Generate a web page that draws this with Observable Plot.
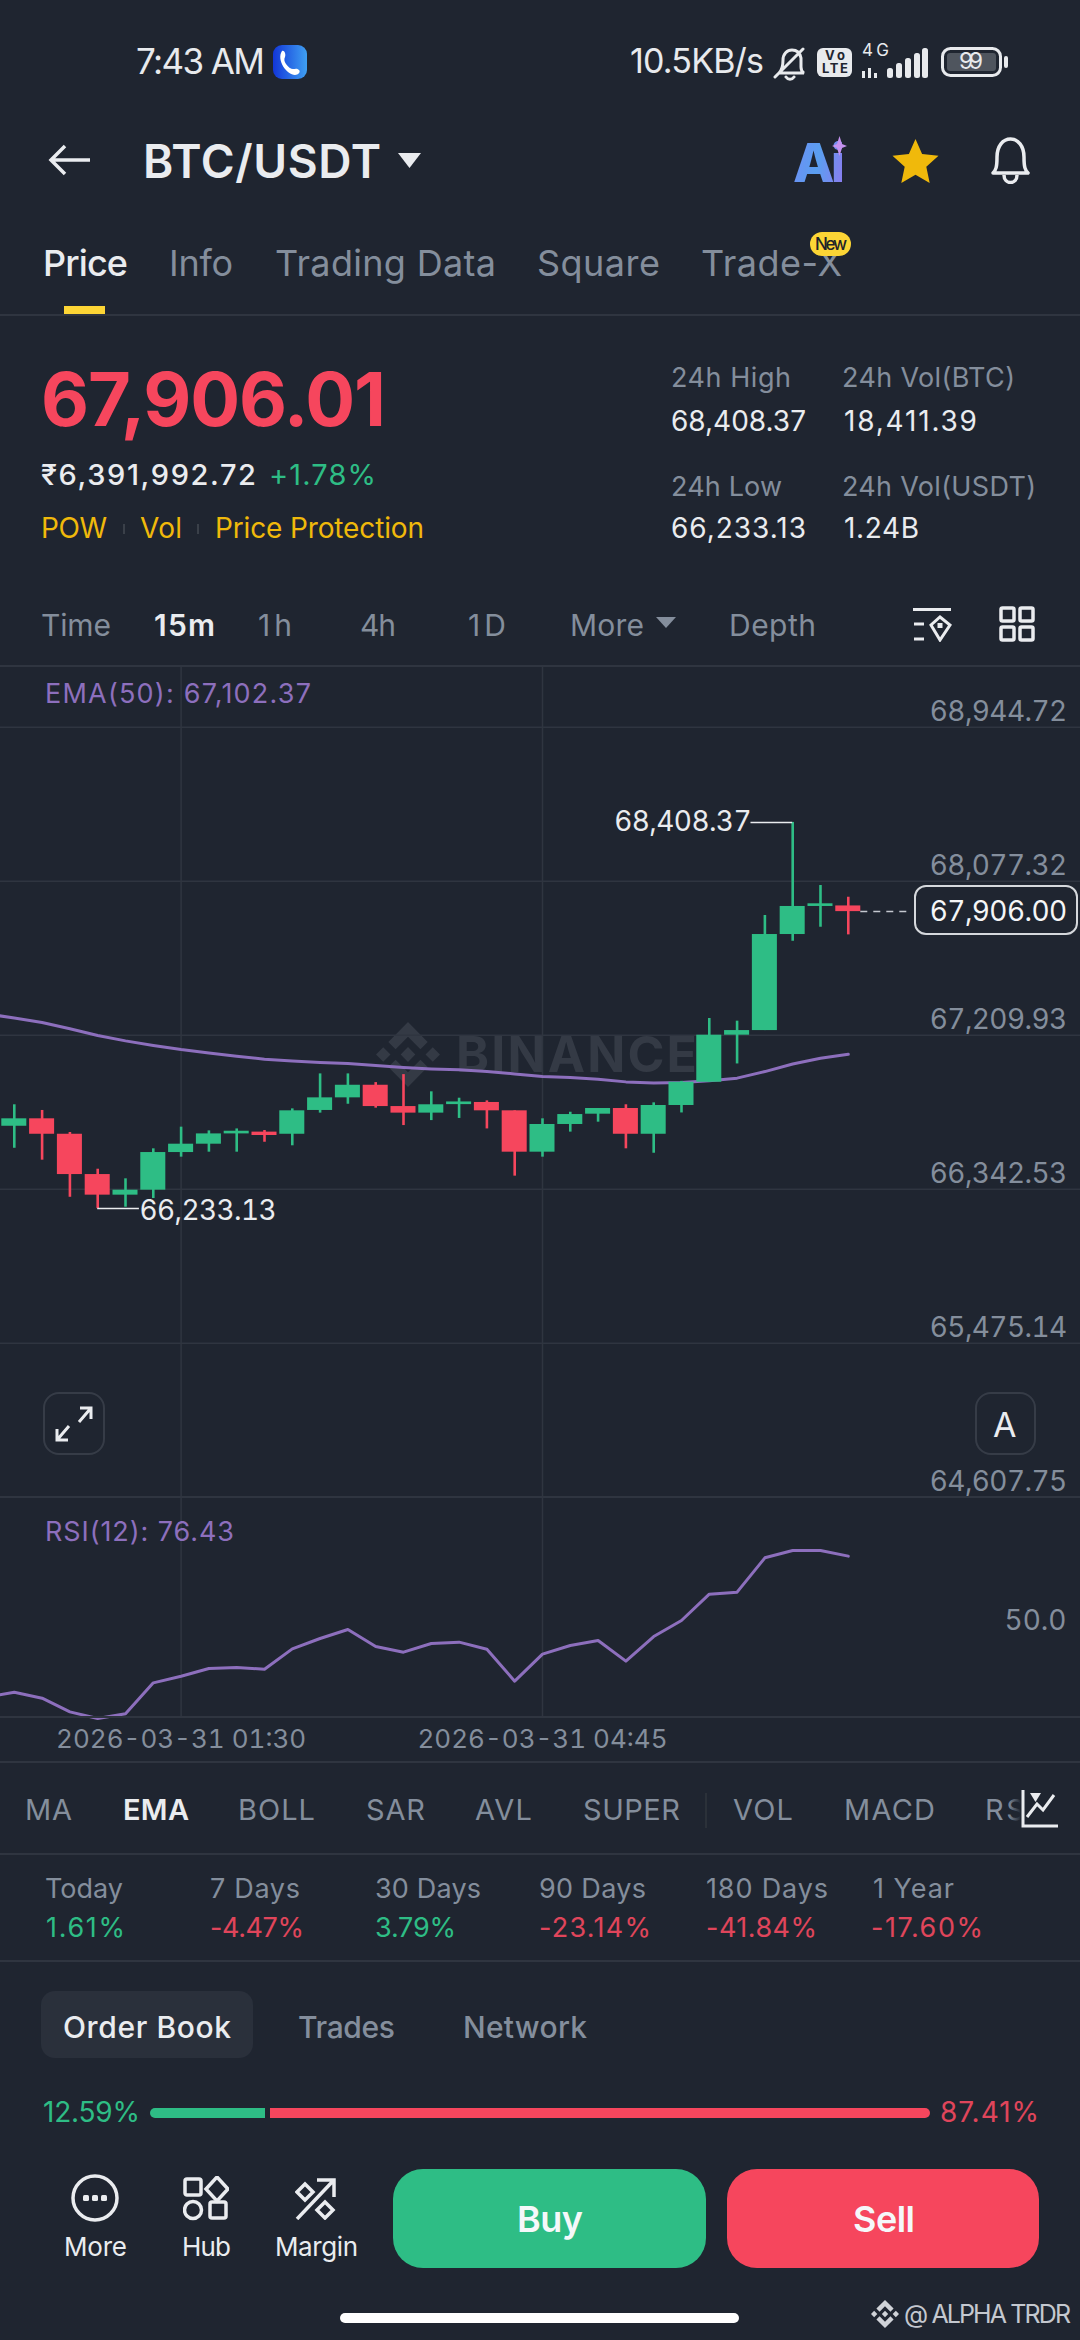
<!DOCTYPE html>
<html><head><meta charset="utf-8">
<script src="https://cdn.jsdelivr.net/npm/d3@7"></script>
<script src="https://cdn.jsdelivr.net/npm/@observablehq/plot@0.6"></script>
<style>
html,body{margin:0;padding:0;background:#1f2530}
#app{position:relative;width:1080px;height:2340px;overflow:hidden;background:#1f2530;font-family:Inter,"Noto Sans",sans-serif;color:#eaecef}
#app span.t{position:absolute;white-space:nowrap;transform:translateY(-50%);line-height:1.2}
#app div.b,#app svg.i{position:absolute;display:block}
#app svg.plot{position:absolute;left:0}
</style></head><body><div id="app"></div>
<script>
const bgColor="#1f2530",green="#2ebd85",red="#f6465d",gray="#848e9c",white="#eaecef",yellow="#f0b90b",purple="#8d6fbd",lineCol="#2f3540";

// ---------- chart data ----------
const startTime=new Date(Date.UTC(2026,2,31,0,0));
const opens =[66697,66739,66652,66425,66309,66337,66549,66596,66654,66664,66652,66786,66857,66928,66808,66771,66819,66831,66784,66551,66707,66765,66797,66652,66814,66945,67210,67236,67777,67935,67938];
const closes=[66739,66652,66425,66309,66337,66549,66596,66654,66669,66645,66784,66857,66928,66808,66771,66818,66834,66784,66551,66707,66763,66797,66652,66814,66945,67210,67236,67777,67935,67950,67906];
const highs =[66818,66786,66662,66455,66401,66570,66692,66671,66682,66673,66795,66992,66992,66943,66988,66891,66855,66840,66784,66739,66776,66797,66818,66829,66950,67304,67289,67884,68408.37,68053,67987];
const lows  =[66573,66506,66297,66233.13,66241,66290,66523,66551,66551,66607,66587,66771,66821,66799,66701,66729,66741,66682,66416,66523,66664,66720,66570,66545,66772,66945,67048,67236,67739,67818,67775];
// both indicator series start one candle before the first visible candle
const emaValues=[67330,67307,67281,67246,67208,67178,67152,67129,67110,67092,67075,67065,67056,67050,67039,67028,67020,67015,67005,66992,66977,66971,66962,66947,66941,66943,66953,66968,67005,67048,67080,67102.37];
const rsiValues=[30.04,31.69,29.71,25.22,23.03,24.56,34.76,36.95,39.47,39.8,39.25,45.94,49.34,52.3,46.71,44.85,47.7,48.14,45.83,35.31,44.19,47.04,48.68,41.89,50,55.26,63.93,64.58,75.88,78.29,78.29,76.43];
const priceTicks=[68944.72,68077.32,67209.93,66342.53,65475.14,64607.75];
const rsiTicks=[50];
const dateTicks=[new Date(Date.UTC(2026,2,31,1,30)),new Date(Date.UTC(2026,2,31,4,45))];
const lastPrice=67906.00, chartHigh=68408.37, chartLow=66233.13;

const minutes=(d,m)=>new Date(+d+m*60000);
const tAt=i=>minutes(startTime,15*i);
const candles=opens.map((o,i)=>({t:tAt(i),open:o,close:closes[i],high:highs[i],low:lows[i],col:closes[i]>=o?green:red}));
const emaData=emaValues.map((v,i)=>({t:tAt(i-1),v}));
const rsiData=rsiValues.map((v,i)=>({t:tAt(i-1),v}));
const xDomain=[minutes(startTime,-7.45),minutes(startTime,575.3)];
const fmt=d3.format(",.2f");
const iLow=lows.indexOf(chartLow), iHigh=highs.indexOf(chartHigh);
const leadLow=[{x1:tAt(iLow),x2:minutes(tAt(iLow),22.5),y:chartLow}];
const leadHigh=[{x1:minutes(tAt(iHigh),-22.5),x2:tAt(iHigh),y:chartHigh}];

const app=document.getElementById("app");
// ---------- UI helpers ----------
function T(s,x1,x2,yc,size,color,weight){
  const e=document.createElement("span");e.className="t";e.textContent=s;
  e.style.cssText=`left:${x1}px;top:${yc}px;font-size:${size}px;color:${color};font-weight:${weight||400}`;
  app.appendChild(e);
  const w=e.getBoundingClientRect().width;
  if(x2) e.style.letterSpacing=((x2-x1-w)/Math.max(1,s.length-1))+"px";
  return e;
}
function B(x1,y1,x2,y2,css){const e=document.createElement("div");e.className="b";
  e.style.cssText=`left:${x1}px;top:${y1}px;width:${x2-x1}px;height:${y2-y1}px;${css||""}`;app.appendChild(e);return e;}
function I(x1,y1,x2,y2,vb,inner){const h=document.createElementNS("http://www.w3.org/2000/svg","svg");h.setAttribute("class","i");
  h.setAttribute("viewBox",vb);h.setAttribute("preserveAspectRatio","none");
  h.style.cssText=`left:${x1}px;top:${y1}px;width:${x2-x1}px;height:${y2-y1}px`;h.innerHTML=inner;app.appendChild(h);return h;}
const logo='M38.73 53.2L63.3 28.63 87.89 53.22l14.3-14.3L63.3 0 24.43 38.9zM0 63.3l14.3-14.3 14.3 14.3-14.3 14.3zM38.73 73.41L63.3 97.98l24.59-24.59 14.3 14.29-38.89 38.9-38.9-38.9zM97.98 63.3l14.3-14.3 14.3 14.3-14.3 14.3zM77.78 63.29L63.3 48.81 52.6 59.5l-1.23 1.23-2.53 2.53 14.46 14.46 14.48-14.47z';

// ---------- status bar ----------
T("7:43 AM",136,265,61,35,"#e8eaed",400);
I(273,45,307,79,"0 0 34 34",'<defs><linearGradient id="ph" x1="0" x2="1"><stop offset="0" stop-color="#1236d8"/><stop offset="1" stop-color="#3fa0f2"/></linearGradient></defs><rect width="34" height="34" rx="9" fill="url(#ph)"/><path d="M9 6c3-1 4 4 3 6s-1 4 1 7 5 5 7 5 4-1 6 1-1 5-4 5C14 30 3 15 9 6z" fill="#fff"/>');
T("10.5KB/s",630,764,61,34,"#e8eaed",400);
I(773,45,807,82,"0 0 34 37",'<path d="M6 28c3-3 4-7 4-13 0-6 4-10 9-10s8 3 9 8v9c0 3 1 5 3 6z M13 32c2 3 6 3 8 0M2 32L30 4" fill="none" stroke="#e8eaed" stroke-width="3" stroke-linecap="round"/>');
B(817,48,852,77,"background:#e8eaed;border-radius:6px");
T("Vo",825,845,56,13,bgColor,700);T("LTE",822,848,69,13,bgColor,700);
T("4G",862,889,50,17,"#e8eaed",400);
I(861,48,928,78,"0 0 67 30",'<g fill="#e8eaed"><rect x="1" y="23" width="3" height="7"/><rect x="7" y="20" width="3" height="10"/><rect x="13" y="25" width="3" height="5"/><rect x="26" y="20" width="6" height="10" rx="2.500"/><rect x="35" y="15" width="6" height="15" rx="2.500"/><rect x="44" y="10" width="6" height="20" rx="2.500"/><rect x="53" y="5" width="6" height="25" rx="2.500"/><rect x="61" y="0" width="6" height="30" rx="2.500"/></g>');
I(941,47,1010,77,"0 0 69 30",'<rect x="1.5" y="1.5" width="58" height="27" rx="8" fill="none" stroke="#e8eaed" stroke-width="3"/><rect x="6" y="6" width="49" height="18" rx="3" fill="#4f555e"/><rect x="63" y="9" width="4" height="12" rx="2" fill="#e8eaed"/>');
T("99",959,983,62,23,"#e8eaed",400);

// ---------- header ----------
I(48,144,91,176,"0 0 43 32",'<path d="M42 16H3M17 2L3 16l14 14" fill="none" stroke="#eaecef" stroke-width="3.5"/>');
T("BTC/USDT",143,381,162,46,white,600);
I(398,153,421,168,"0 0 23 15",'<path d="M0 0h23L11.5 15z" fill="#eaecef"/>');
const ai=T("Ai",793,846,163,54,"transparent",800);
ai.style.background="linear-gradient(100deg,#6f8df5,#5a9ff0 50%,#8c7bf0)";ai.style.webkitBackgroundClip="text";ai.style.backgroundClip="text";
I(832,136,847,156,"0 0 15 20",'<path d="M7.5 0L10 8l5 2-5 2-2.5 8L5 12l-5-2 5-2z" fill="#c592ef"/>');
I(892,138,939,183,"0 0 47 45",'<path d="M23.5 1l6.6 15 16.4 1.8-12.2 11 3.4 16.2-14.2-8.2L9.300 45l3.400-16.200-12.200-11L16.900 16z" fill="'+yellow+'"/>');
I(988,137,1033,184,"0 0 45 47",'<path d="M5 36c3-3 4-6 4-16C9 9 15 2 22.500 2S36 9 36 20c0 10 1 13 4 16z M16 38c0 10 13 10 13 0" fill="none" stroke="#eaecef" stroke-width="3.500" stroke-linejoin="round"/>');

// ---------- tabs ----------
T("Price",43,128,264,36,white,500);
T("Info",169,233,264,36,gray,400);
T("Trading Data",275,496,264,36,gray,400);
T("Square",537,660,264,36,gray,400);
T("Trade-X",701,842,264,36,gray,400);
B(810,232,851,256,"background:#fcd535;border-radius:12px");
T("New",815,847,244,17,"#1e2329",500);
B(64,306,105,315,"background:#fcd535");
B(0,314,1080,316,"background:"+lineCol);

// ---------- price block ----------
T("67,906.01",41,386,399,74,red,700);
T("₹6,391,992.72",41,256,475,29,white,500);
T("+1.78%",269,376,475,29,green,400);
T("POW",41,107,529,28,yellow,400);
B(123,524,125,534,"background:#3a4049");
T("Vol",140,182,529,28,yellow,400);
B(197,524,199,534,"background:#3a4049");
T("Price Protection",215,424,529,28,yellow,400);
T("24h High",671,791,378,27,gray);T("24h Vol(BTC)",842,1015,378,27,gray);
T("68,408.37",671,806,422,28,white);T("18,411.39",844,977,422,28,white);
T("24h Low",671,782,487,27,gray);T("24h Vol(USDT)",842,1036,487,27,gray);
T("66,233.13",671,806,529,28,white);T("1.24B",844,919,529,28,white);

// ---------- interval row ----------
T("Time",41,111,625,30,gray);T("15m",154,215,625,30,white,600);T("1h",258,292,625,30,gray);
T("4h",360,396,625,30,gray);T("1D",468,506,625,30,gray);T("More",570,644,625,30,gray);
I(656,617,676,628,"0 0 20 11",'<path d="M0 0h20L10 11z" fill="'+gray+'"/>');
T("Depth",729,816,625,30,gray);
I(913,608,952,642,"0 0 39 34",'<g fill="none" stroke="#eaecef" stroke-width="3"><path d="M0 1.500h38M1 16h10M1 31h10"/><path d="M27 9l10 8-10 15-9-15z" stroke-width="3"/><rect x="24.500" y="15" width="5" height="5" fill="#eaecef" stroke="none"/></g>');
I(999,606,1035,642,"0 0 36 36",'<g fill="none" stroke="#eaecef" stroke-width="3.500"><rect x="2" y="2" width="13" height="13" rx="1.500"/><rect x="21" y="2" width="13" height="13" rx="1.500"/><rect x="2" y="21" width="13" height="13" rx="1.500"/><rect x="21" y="21" width="13" height="13" rx="1.500"/></g>');
B(0,665,1080,667,"background:"+lineCol);

// ---------- watermark + price box (behind the chart) ----------
I(376,1022,440,1087,"0 0 126.600 126.600",'<path d="'+logo+'" fill="#343a45"/>');
T("BINANCE",456,697,1054,50,"#343a45",700);
B(914,885,1078,935,"border:2px solid #d5d8dc;border-radius:12px;box-sizing:border-box");

// ---------- main price chart ----------
const axisFont="Inter";
const priceChart=Plot.plot({
  width:1080,height:830,margin:0,
  style:{background:"transparent",fontFamily:axisFont,letterSpacing:"-0.6px",position:"absolute",top:"667px",left:"0",overflow:"visible"},
  x:{type:"utc",domain:xDomain,axis:null},
  y:{domain:[64606,69281]},
  marks:[
    Plot.gridY(priceTicks,{stroke:lineCol,strokeOpacity:1,strokeWidth:1.5}),
    Plot.gridX(dateTicks,{stroke:lineCol,strokeOpacity:1,strokeWidth:1.5}),
    Plot.axisY(priceTicks,{anchor:"right",tickSize:0,tickPadding:0,dx:-14,dy:-15,textAnchor:"end",fontSize:28,fill:gray,tickFormat:fmt,label:null}),
    Plot.line(emaData,{x:"t",y:"v",stroke:purple,strokeWidth:3}),
    Plot.ruleX(candles,{x:"t",y1:"low",y2:"high",stroke:"col",strokeWidth:2.6}),
    Plot.rect(candles,{x1:d=>minutes(d.t,-6.75),x2:d=>minutes(d.t,6.75),y1:"open",y2:"close",fill:"col"}),
    Plot.ruleY(leadLow,{x1:"x1",x2:"x2",y:"y",stroke:white,strokeWidth:1.5}),
    Plot.ruleY(leadHigh,{x1:"x1",x2:"x2",y:"y",stroke:white,strokeWidth:1.5}),
    Plot.text(leadLow,{x:"x2",y:"y",text:d=>fmt(d.y),textAnchor:"start",dy:2,fontSize:28,fontVariant:"tabular-nums",fill:white}),
    Plot.text(leadHigh,{x:"x1",y:"y",text:d=>fmt(d.y),textAnchor:"end",fontSize:28,fontVariant:"tabular-nums",fill:white}),
    Plot.ruleY([lastPrice],{x1:minutes(tAt(30),6.75),x2:minutes(tAt(30),34),stroke:"#c4c8cf",strokeWidth:1.5,strokeDasharray:"7 6"}),
    Plot.text([lastPrice],{y:d=>d,frameAnchor:"right",dx:-14,textAnchor:"end",text:d=>fmt(d),fontSize:28,fontVariant:"tabular-nums",fill:"#f5f6f7"})
  ]
});
app.appendChild(priceChart);

// ---------- RSI chart ----------
const rsiChart=Plot.plot({
  width:1080,height:265,marginTop:0,marginLeft:0,marginRight:0,marginBottom:45,
  style:{background:"transparent",fontFamily:axisFont,position:"absolute",top:"1497px",left:"0",overflow:"visible"},
  x:{type:"utc",domain:xDomain},
  y:{domain:[23.36,95.72]},
  marks:[
    Plot.gridX(dateTicks,{stroke:lineCol,strokeOpacity:1,strokeWidth:1.5}),
    Plot.axisX(dateTicks,{anchor:"bottom",tickSize:0,tickPadding:12,fontSize:26,fill:gray,tickFormat:d3.utcFormat("%Y-%m-%d %H:%M"),label:null}),
    Plot.axisY(rsiTicks,{anchor:"right",tickSize:0,tickPadding:0,dx:-14,dy:-15,textAnchor:"end",fontSize:28,fill:gray,tickFormat:d3.format(".1f"),label:null}),
    Plot.line(rsiData,{x:"t",y:"v",stroke:purple,strokeWidth:3})
  ]
});
app.appendChild(rsiChart);
B(0,1496,1080,1498,"background:"+lineCol);
B(0,1716,1080,1718,"background:"+lineCol);
B(0,1761,1080,1763,"background:"+lineCol);

// legends
T("EMA(50): "+fmt(emaValues[emaValues.length-1]),45,311,694,27,purple);
T("RSI(12): "+rsiValues[rsiValues.length-1],45,234,1532,27,purple);

// chart buttons
B(43,1392,105,1455,"border:2px solid #363c47;border-radius:16px;box-sizing:border-box");
I(55,1406,93,1442,"0 0 38 36",'<path d="M24 16L36 2M25 2h11v11M14 20L2 34M13 34H2V23" fill="none" stroke="#eaecef" stroke-width="3"/>');
B(975,1392,1036,1455,"border:2px solid #363c47;border-radius:16px;box-sizing:border-box");
T("A",993,1018,1425,34,white);

// ---------- indicator row ----------
[["MA",25,72],["BOLL",238,315],["SAR",366,425],["AVL",475,532],["SUPER",583,680],["VOL",733,793],["MACD",844,935],["RSI",985,1035]].forEach(d=>T(d[0],d[1],d[2],1810,29,gray));
T("EMA",123,189,1810,29,white,600);
B(705,1793,707,1828,"background:#2b3139");
B(1008,1785,1080,1835,"background:linear-gradient(90deg,rgba(31,37,48,0),"+bgColor+" 18%)");
I(1021,1790,1058,1828,"0 0 37 38",'<path d="M2 0v36h35M6 27l10-13 6 6 11-15" fill="none" stroke="#eaecef" stroke-width="3"/><path d="M9 3h11l-5.500 9z" fill="#eaecef"/>');
B(0,1853,1080,1855,"background:"+lineCol);

// ---------- returns ----------
const periods=["Today","7 Days","30 Days","90 Days","180 Days","1 Year"];
const periodX=[[45,123],[210,300],[375,481],[539,646],[706,828],[873,954]];
const changes=[1.61,-4.47,3.79,-23.14,-41.84,-17.60];
const changeX=[[46,125],[210,304],[375,456],[539,651],[706,817],[871,983]];
periods.forEach((p,i)=>{
  T(p,periodX[i][0],periodX[i][1],1889,27,gray);
  T(changes[i].toFixed(2)+"%",changeX[i][0],changeX[i][1],1928,27,changes[i]>=0?green:"#e0455b");
});
B(0,1960,1080,1962,"background:"+lineCol);

// ---------- order book ----------
B(41,1991,253,2058,"background:#2a303b;border-radius:14px");
T("Order Book",63,231,2027,30,white,500);
T("Trades",298,395,2027,30,gray,500);
T("Network",463,587,2027,30,gray,500);
T("12.59%",43,140,2113,28,green);
B(150,2108,265,2118,"background:"+green+";border-radius:5px 0 0 5px");
B(270,2108,930,2118,"background:"+red+";border-radius:0 5px 5px 0");
T("87.41%",940,1039,2113,28,"#e0455b");

// ---------- bottom bar ----------
I(71,2174,119,2222,"0 0 48 48",'<circle cx="24" cy="24" r="22" fill="none" stroke="#eaecef" stroke-width="3.500"/><g fill="#eaecef"><rect x="12" y="21" width="6" height="6" rx="1.500"/><rect x="21" y="21" width="6" height="6" rx="1.500"/><rect x="30" y="21" width="6" height="6" rx="1.500"/></g>');
I(183,2176,229,2221,"0 0 46 45",'<g fill="none" stroke="#eaecef" stroke-width="3.500"><rect x="2" y="3" width="16" height="16" rx="2"/><path d="M34 1L45 13 34 25 23 13z"/><circle cx="10" cy="34" r="8.500"/><rect x="27" y="26" width="16" height="16" rx="2"/></g>');
I(295,2178,337,2220,"0 0 42 42",'<g fill="none" stroke="#eaecef" stroke-width="3.500"><path d="M10 6l8 8-8 8-8-8zM30 24l8 8-8 8-8-8zM2 41L38 3M22 2h17v17"/></g>');
T("More",64,127,2247,26,white);T("Hub",182,231,2247,26,white);T("Margin",275,358,2247,26,white);
B(393,2169,706,2268,"background:"+green+";border-radius:30px");
B(727,2169,1039,2268,"background:"+red+";border-radius:30px");
T("Buy",517,583,2220,36,"#f5f8fa",600);
T("Sell",853,915,2220,36,"#f5f8fa",600);
B(340,2313,739,2323,"background:#fff;border-radius:5px");
I(871,2300,899,2328,"0 0 126.600 126.600",'<path d="'+logo+'" fill="#d0d3d8"/>');
T("@ ALPHA TRDR",904,1071,2314,25,"#c4c8cf");
</script></body></html>
